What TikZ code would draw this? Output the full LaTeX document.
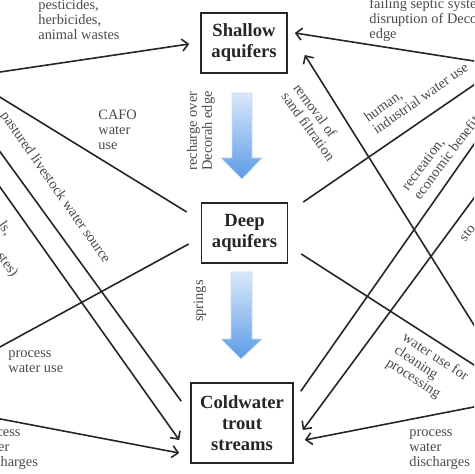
\documentclass[tikz,border=0pt]{standalone}
\usepackage{fontspec}
\setmainfont{Liberation Serif}
\usetikzlibrary{arrows.meta,calc}
\definecolor{encre}{HTML}{262626}
\definecolor{gris}{HTML}{4a4a4a}
\definecolor{bleuclair}{HTML}{dbe8fa}
\definecolor{bleu}{HTML}{5b9be6}

\begin{document}
\begin{tikzpicture}[x=0.5pt,y=-0.5pt,
            boite/.style={draw=encre, line width=0.8pt, minimum width=43pt, minimum height=30pt, align=center, text=encre, font=\fontsize{9.3}{10.5}\selectfont\bfseries},
            fleche/.style={draw=encre, line width=0.8pt, -{Straight Barb[length=3pt,width=6pt]}},
            etiq/.style={align=left, inner sep=0pt, text=gris, font=\fontsize{7.2}{7.5}\selectfont},
            gros/.style={top color=bleuclair, bottom color=bleu, draw=bleu!35, line width=0.3pt},
        ]
        \useasboundingbox (0,0) rectangle (474,474);
        \clip (0,0) rectangle (474,474);
        % aquiferes et cours d'eau
        \node[boite] (shallow) at (244,43) {Shallow\\aquifers};
        \node[boite] (deep) at (244.5,233) {Deep\\aquifers};
        \node[boite, minimum width=51pt, minimum height=40pt] (cold) at (242,423) {Coldwater\\trout\\streams};
        % grosses fleches
        \path[gros] (232,93) -- (252,93) -- (252,158) -- (262,158) -- (242,179) -- (221,158) -- (232,158) -- cycle;
        \path[gros] (231,272) -- (252,272) -- (252,339) -- (262,339) -- (241,359) -- (221,339) -- (231,339) -- cycle;
        \node[etiq, align=center, rotate=90] (recharge) at (201,131) {recharge over\\Decorah edge};
        \node[etiq, rotate=90] (sources) at (200,301) {springs};
        % bouts hors cadre
        \coordinate (pest) at (-10,73.5);
        \coordinate (cafo) at (-10,91);
        \coordinate (pature) at (-10,138);
        \coordinate (dechets) at (-10,173);
        \coordinate (usage) at (-10,352.4);
        \coordinate (rejetG) at (-10,417);
        \coordinate (septique) at (484,62.6);
        \coordinate (sable) at (484,341);
        \coordinate (humain) at (484,78);
        \coordinate (loisir) at (484,130);
        \coordinate (orage) at (484,184.5);
        \coordinate (lavage) at (484,371.4);
        \coordinate (rejetD) at (484,405);
        % gauche
        \draw[fleche] (pest) -- ($(shallow.west)+(-11,1)$);
        \draw[fleche] ($(deep.west)+(-14,-21)$) -- (cafo);
        \draw[fleche] ($(cold.north west)+(-9,19)$) -- (pature);
        \draw[fleche] (dechets) -- ($(cold.west)+(-11,17)$);
        \draw[fleche] ($(deep.west)+(-12,11)$) -- (usage);
        \draw[fleche] (rejetG) -- ($(cold.west)+(-11,30)$);
        % droite
        \draw[fleche] (septique) -- ($(shallow.east)+(7,-10)$);
        \draw[fleche] (sable) -- ($(shallow.east)+(17,12)$);
        \draw[fleche] ($(deep.east)+(15,-31)$) -- (humain);
        \draw[fleche] ($(cold.north east)+(7,9)$) -- (loisir);
        \draw[fleche] (orage) -- ($(cold.east)+(9,7)$);
        \draw[fleche] ($(deep.east)+(13,21)$) -- (lavage);
        \draw[fleche] (rejetD) -- ($(cold.east)+(11,17)$);
        % etiquettes
        \node[etiq, anchor=west] (lPest) at (38,20) {pesticides,\\herbicides,\\animal wastes};
        \node[etiq, anchor=west] (lCafo) at (98,130) {CAFO\\water\\use};
        \node[etiq, rotate=-55] (lPature) at (55,188) {pastured livestock water source};
        \node[etiq, rotate=-54, anchor=east] (lDechA) at (9,234) {ls,};
        \node[etiq, rotate=-54, anchor=east] (lDechB) at (15,276) {stes)};
        \node[etiq, anchor=west] (lUsage) at (8,362) {process\\water use};
        \node[etiq, anchor=west] (lRejetG) at (-23,450) {process\\water\\discharges};
        \node[etiq, anchor=west] (lSept) at (369,20) {failing septic systems,\\disruption of Decorah\\edge};
        \node[etiq, rotate=-54] (lSable) at (314.5,122) {removal of\\sand filtration};
        \node[etiq, rotate=35] (lHumain) at (416,92) {human,\\industrial water use};
        \node[etiq, rotate=53] (lLoisir) at (442,151) {recreation,\\economic benefits};
        \node[etiq, rotate=52, anchor=west] (lOrage) at (462,240) {sto};
        \node[etiq, rotate=-33] (lLavage) at (427,370) {water use for\\cleaning\\processing};
        \node[etiq, anchor=west] (lRejetD) at (409,450) {process\\water\\discharges};
    \end{tikzpicture}
\end{document}
